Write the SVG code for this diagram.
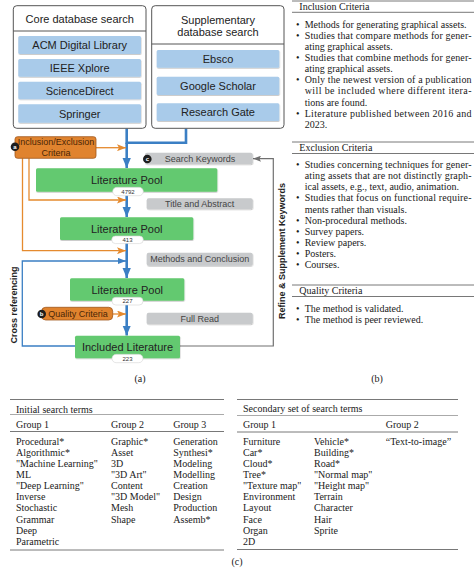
<svg xmlns="http://www.w3.org/2000/svg" width="474" height="576" viewBox="0 0 474 576">
<style>
.sans{font-family:"Liberation Sans",Arial,sans-serif;fill:#222}
.serif{font-family:"Liberation Serif","Times New Roman",serif;fill:#1a1a1a;font-size:10px}
.t11{font-size:11px}
.t9{font-size:9px}
.mid{text-anchor:middle}
.frame{fill:#fff;stroke:#555;stroke-width:1}
.item{fill:#a9cbea;filter:url(#sh)}
.pool{fill:#63c96f;filter:url(#sh)}
.pill{fill:#c8cacc;filter:url(#sh)}
.pilltxt{fill:#444}
.orange{fill:#e0832e;stroke:#a0561a;stroke-width:0.8}
.otxt{fill:#4a2606}
.badge{fill:#fff;stroke:#d4d4d4;stroke-width:0.6}
.btxt{font-family:"Liberation Sans",Arial,sans-serif;font-size:6px;fill:#333;text-anchor:middle}
.circ{fill:#1e1e1e}
.ctxt{font-family:"Liberation Sans",Arial,sans-serif;font-size:6px;font-weight:bold;fill:#fff;text-anchor:middle}
.blue{stroke:#3b7fc4;stroke-width:2.6;fill:none}
.bluethin{stroke:#3b7fc4;stroke-width:1.3;fill:none}
.or{stroke:#e58a2e;stroke-width:1.3;fill:none}
.gr{stroke:#707070;stroke-width:1.2;fill:none}
.rule{stroke:#555;stroke-width:0.8}
.rulethin{stroke:#555;stroke-width:0.5}
.bold{font-weight:bold}
</style>
<defs>
<filter id="sh" x="-10%" y="-20%" width="120%" height="150%">
<feDropShadow dx="0.4" dy="0.8" stdDeviation="0.7" flood-color="#000" flood-opacity="0.25"/>
</filter>
<marker id="ab" markerUnits="userSpaceOnUse" markerWidth="10" markerHeight="12" refX="12" refY="5" orient="auto" viewBox="0 0 12 10">
<path d="M0,0 L12,5 L0,10 z" fill="#3b7fc4"/>
</marker>
<marker id="abs" markerUnits="userSpaceOnUse" markerWidth="8" markerHeight="7" refX="9" refY="3.5" orient="auto" viewBox="0 0 9 7">
<path d="M0,0 L9,3.5 L0,7 z" fill="#3b7fc4"/>
</marker>
<marker id="ao" markerUnits="userSpaceOnUse" markerWidth="9" markerHeight="7" refX="9" refY="3.5" orient="auto" viewBox="0 0 9 7">
<path d="M0,0 L9,3.5 L0,7 L2,3.5 z" fill="#e58a2e"/>
</marker>
<marker id="ag" markerUnits="userSpaceOnUse" markerWidth="8" markerHeight="6" refX="8" refY="3" orient="auto" viewBox="0 0 8 6">
<path d="M0,0 L8,3 L0,6 L1.5,3 z" fill="#707070"/>
</marker>
</defs>
<rect width="474" height="576" fill="#fff"/>

<!-- connectors -->
<g id="connectors">
<path class="blue" d="M126.7,128.5 V142.7 H186 V128.5"/>
<path class="blue" d="M126.7,142.7 V168" marker-end="url(#ab)"/>
<path class="blue" d="M126.7,192 V217" marker-end="url(#ab)"/>
<path class="blue" d="M126.7,240 V278" marker-end="url(#ab)"/>
<path class="blue" d="M126.7,301 V335.5" marker-end="url(#ab)"/>
<path class="or" d="M96,147.7 H126" marker-end="url(#ao)"/>
<path class="or" d="M29,158.3 V200 H126" marker-end="url(#ao)"/>
<path class="or" d="M22.5,158.3 V250.7 H126" marker-end="url(#ao)"/>
<path class="or" d="M112.7,314 H126" marker-end="url(#ao)"/>
<path class="bluethin" d="M75,346 H22.3 V261 H126" marker-end="url(#abs)"/>
<path class="gr" d="M180,346 H273.3 V158.7 H253" marker-end="url(#ag)"/>
</g>

<!-- core database search -->
<g id="core">
<rect class="frame" x="13.3" y="5.7" width="132.7" height="122.6" rx="3.5"/>
<line x1="13.3" y1="31" x2="146" y2="31" stroke="#555" stroke-width="1"/>
<text class="sans t11 mid" x="79.7" y="23">Core database search</text>
</g>
<g id="acm"><rect class="item" x="18.3" y="36" width="122.7" height="18" rx="1.5"/><text class="sans t11 mid" x="79.7" y="49">ACM Digital Library</text></g>
<g id="ieee"><rect class="item" x="18.3" y="59" width="122.7" height="17.7" rx="1.5"/><text class="sans t11 mid" x="79.7" y="72">IEEE Xplore</text></g>
<g id="sciencedirect"><rect class="item" x="18.3" y="81.7" width="122.7" height="17.6" rx="1.5"/><text class="sans t11 mid" x="79.7" y="94.5">ScienceDirect</text></g>
<g id="springer"><rect class="item" x="18.3" y="104.3" width="122.7" height="18.4" rx="1.5"/><text class="sans t11 mid" x="79.7" y="117.5">Springer</text></g>

<!-- supplementary -->
<g id="supp">
<rect class="frame" x="151.7" y="5.7" width="132.3" height="122.6" rx="3.5"/>
<line x1="151.7" y1="44" x2="284" y2="44" stroke="#555" stroke-width="1"/>
<text class="sans t11 mid" x="218" y="24">Supplementary</text>
<text class="sans t11 mid" x="218" y="36.3">database search</text>
</g>
<g id="ebsco"><rect class="item" x="156.7" y="50" width="122.6" height="17.7" rx="1.5"/><text class="sans t11 mid" x="218" y="62.8">Ebsco</text></g>
<g id="scholar"><rect class="item" x="156.7" y="76.7" width="122.6" height="18.3" rx="1.5"/><text class="sans t11 mid" x="218" y="89.8">Google Scholar</text></g>
<g id="researchgate"><rect class="item" x="156.7" y="103.3" width="122.6" height="17.7" rx="1.5"/><text class="sans t11 mid" x="218" y="116.2">Research Gate</text></g>

<!-- criteria -->
<g id="inclusion">
<rect class="orange" x="15" y="136.7" width="81" height="21.6" rx="2.5"/>
<text class="sans t9 mid otxt" x="56" y="145">Inclusion/Exclusion</text>
<text class="sans t9 mid otxt" x="56" y="155.5">Criteria</text>
<circle class="circ" cx="15" cy="146.7" r="4.3"/>
<text class="ctxt" x="15" y="148.8">a</text>
</g>
<g id="quality">
<rect class="orange" x="41.7" y="307.3" width="71" height="12.7" rx="4"/>
<text class="sans t9 mid otxt" x="78" y="317">Quality Criteria</text>
<circle class="circ" cx="41.7" cy="314" r="4.3"/>
<text class="ctxt" x="41.7" y="316.1">b</text>
</g>

<!-- gray steps -->
<g id="searchkeywords">
<rect class="pill" x="145" y="152.7" width="107.7" height="11.6" rx="2"/>
<text class="sans t9 mid pilltxt" x="200" y="161.7">Search Keywords</text>
<circle class="circ" cx="147.3" cy="159" r="4.3"/>
<text class="ctxt" x="147.3" y="161.1">c</text>
</g>
<g id="titleabstract"><rect class="pill" x="146.7" y="198.3" width="106" height="11" rx="2"/><text class="sans t9 mid pilltxt" x="199.7" y="207">Title and Abstract</text></g>
<g id="methods"><rect class="pill" x="146.7" y="252.7" width="106" height="13" rx="2"/><text class="sans t9 mid pilltxt" x="199.7" y="262.4">Methods and Conclusion</text></g>
<g id="fullread"><rect class="pill" x="146.7" y="312.7" width="106" height="11.6" rx="2"/><text class="sans t9 mid pilltxt" x="199.7" y="321.7">Full Read</text></g>

<!-- pools -->
<g id="pool1">
<rect class="pool" x="36" y="168.3" width="181.3" height="23.4" rx="1.5"/>
<text class="sans t11 mid" x="126.7" y="184">Literature Pool</text>
<rect class="badge" x="112.7" y="187.3" width="30.6" height="8.4" rx="4.2"/>
<text class="btxt" x="128" y="193.6">4792</text>
</g>
<g id="pool2">
<rect class="pool" x="60" y="217.3" width="133.3" height="22.7" rx="1.5"/>
<text class="sans t11 mid" x="126.7" y="232.7">Literature Pool</text>
<rect class="badge" x="111.7" y="236" width="31.6" height="7.6" rx="3.8"/>
<text class="btxt" x="127.5" y="241.9">413</text>
</g>
<g id="pool3">
<rect class="pool" x="70" y="278.3" width="114.3" height="22.4" rx="1.5"/>
<text class="sans t11 mid" x="127.2" y="293.5">Literature Pool</text>
<rect class="badge" x="112" y="297.3" width="31" height="7.7" rx="3.8"/>
<text class="btxt" x="127.5" y="303.2">227</text>
</g>
<g id="included">
<rect class="pool" x="75" y="335.7" width="105" height="22.6" rx="1.5"/>
<text class="sans t11 mid" x="127.5" y="351">Included Literature</text>
<rect class="badge" x="112" y="354.3" width="31" height="8.4" rx="4.2"/>
<text class="btxt" x="127.5" y="360.6">223</text>
</g>

<!-- side labels -->
<text class="sans t9 bold mid" transform="translate(17.3,305) rotate(-90)">Cross referencing</text>
<text class="sans t9 bold mid" transform="translate(284.5,251) rotate(-90)">Refine &amp; Supplement Keywords</text>

<text class="serif mid" x="140" y="382">(a)</text>

<!-- (b) criteria lists -->
<g id="criteria-text">
<line class="rule" x1="292" y1="1" x2="474" y2="1" stroke="#888" stroke-width="1.4"/>
<text class="serif" x="299.3" y="9.5">Inclusion Criteria</text>
<line class="rule" x1="292" y1="12.3" x2="474" y2="12.3"/>
<text class="serif" x="296" y="27.5">•</text><text class="serif" x="304.7" y="27.5">Methods for generating graphical assets.</text>
<text class="serif" x="296" y="38.6">•</text><text class="serif" x="304.7" y="38.6" textLength="166.8" lengthAdjust="spacing">Studies that compare methods for gener-</text>
<text class="serif" x="304.7" y="49.8">ating graphical assets.</text>
<text class="serif" x="296" y="60.9">•</text><text class="serif" x="304.7" y="60.9" textLength="166.8" lengthAdjust="spacing">Studies that combine methods for gener-</text>
<text class="serif" x="304.7" y="72">ating graphical assets.</text>
<text class="serif" x="296" y="83.2">•</text><text class="serif" x="304.7" y="83.2" textLength="166.8" lengthAdjust="spacing">Only the newest version of a publication</text>
<text class="serif" x="304.7" y="94.3" textLength="166.8" lengthAdjust="spacing">will be included where different itera-</text>
<text class="serif" x="304.7" y="105.5">tions are found.</text>
<text class="serif" x="296" y="116.6">•</text><text class="serif" x="304.7" y="116.6" textLength="166.8" lengthAdjust="spacing">Literature published between 2016 and</text>
<text class="serif" x="304.7" y="127.8">2023.</text>

<line class="rule" x1="292" y1="142" x2="474" y2="142"/>
<text class="serif" x="299.3" y="150.7">Exclusion Criteria</text>
<line class="rule" x1="292" y1="153.5" x2="474" y2="153.5"/>
<text class="serif" x="296" y="168">•</text><text class="serif" x="304.7" y="168" textLength="166.8" lengthAdjust="spacing">Studies concerning techniques for gener-</text>
<text class="serif" x="304.7" y="179.1" textLength="166.8" lengthAdjust="spacing">ating assets that are not distinctly graph-</text>
<text class="serif" x="304.7" y="190.3">ical assets, e.g., text, audio, animation.</text>
<text class="serif" x="296" y="201.4">•</text><text class="serif" x="304.7" y="201.4" textLength="166.8" lengthAdjust="spacing">Studies that focus on functional require-</text>
<text class="serif" x="304.7" y="212.6">ments rather than visuals.</text>
<text class="serif" x="296" y="223.7">•</text><text class="serif" x="304.7" y="223.7">Non-procedural methods.</text>
<text class="serif" x="296" y="234.9">•</text><text class="serif" x="304.7" y="234.9">Survey papers.</text>
<text class="serif" x="296" y="246">•</text><text class="serif" x="304.7" y="246">Review papers.</text>
<text class="serif" x="296" y="257.2">•</text><text class="serif" x="304.7" y="257.2">Posters.</text>
<text class="serif" x="296" y="268.3">•</text><text class="serif" x="304.7" y="268.3">Courses.</text>

<line class="rule" x1="292" y1="285" x2="474" y2="285"/>
<text class="serif" x="299.3" y="293.7">Quality Criteria</text>
<line class="rule" x1="292" y1="296.5" x2="474" y2="296.5"/>
<text class="serif" x="296" y="311.5">•</text><text class="serif" x="304.7" y="311.5">The method is validated.</text>
<text class="serif" x="296" y="322.7">•</text><text class="serif" x="304.7" y="322.7">The method is peer reviewed.</text>
</g>
<text class="serif mid" x="377" y="382">(b)</text>

<!-- (c) tables -->
<g id="table-initial">
<line class="rule" x1="10" y1="399.5" x2="224" y2="399.5" stroke-width="1.1"/>
<text class="serif" x="16" y="412.5">Initial search terms</text>
<line class="rulethin" x1="10" y1="414.5" x2="224" y2="414.5"/>
<text class="serif" x="16" y="427.5">Group 1</text>
<text class="serif" x="111" y="427.5">Group 2</text>
<text class="serif" x="173.3" y="427.5">Group 3</text>
<line class="rule" x1="10" y1="431.5" x2="224" y2="431.5"/>
<text class="serif" x="16" y="444.5">Procedural*</text>
<text class="serif" x="16" y="455.6">Algorithmic*</text>
<text class="serif" x="16" y="466.8">"Machine Learning"</text>
<text class="serif" x="16" y="477.9">ML</text>
<text class="serif" x="16" y="489.1">"Deep Learning"</text>
<text class="serif" x="16" y="500.2">Inverse</text>
<text class="serif" x="16" y="511.4">Stochastic</text>
<text class="serif" x="16" y="522.5">Grammar</text>
<text class="serif" x="16" y="533.7">Deep</text>
<text class="serif" x="16" y="544.8">Parametric</text>
<text class="serif" x="111" y="444.5">Graphic*</text>
<text class="serif" x="111" y="455.6">Asset</text>
<text class="serif" x="111" y="466.8">3D</text>
<text class="serif" x="111" y="477.9">"3D Art"</text>
<text class="serif" x="111" y="489.1">Content</text>
<text class="serif" x="111" y="500.2">"3D Model"</text>
<text class="serif" x="111" y="511.4">Mesh</text>
<text class="serif" x="111" y="522.5">Shape</text>
<text class="serif" x="173.3" y="444.5">Generation</text>
<text class="serif" x="173.3" y="455.6">Synthesi*</text>
<text class="serif" x="173.3" y="466.8">Modeling</text>
<text class="serif" x="173.3" y="477.9">Modelling</text>
<text class="serif" x="173.3" y="489.1">Creation</text>
<text class="serif" x="173.3" y="500.2">Design</text>
<text class="serif" x="173.3" y="511.4">Production</text>
<text class="serif" x="173.3" y="522.5">Assemb*</text>
<line class="rule" x1="10" y1="550" x2="224" y2="550" stroke-width="1.1"/>
</g>
<g id="table-secondary">
<line class="rule" x1="237" y1="399.5" x2="458" y2="399.5" stroke-width="1.1"/>
<text class="serif" x="243" y="412">Secondary set of search terms</text>
<line class="rulethin" x1="237" y1="415.5" x2="458" y2="415.5"/>
<text class="serif" x="243" y="427.5">Group 1</text>
<text class="serif" x="385.7" y="427.5">Group 2</text>
<line class="rule" x1="237" y1="432" x2="458" y2="432"/>
<text class="serif" x="243" y="444.5">Furniture</text>
<text class="serif" x="243" y="455.6">Car*</text>
<text class="serif" x="243" y="466.8">Cloud*</text>
<text class="serif" x="243" y="477.9">Tree*</text>
<text class="serif" x="243" y="489.1">"Texture map"</text>
<text class="serif" x="243" y="500.2">Environment</text>
<text class="serif" x="243" y="511.4">Layout</text>
<text class="serif" x="243" y="522.5">Face</text>
<text class="serif" x="243" y="533.7">Organ</text>
<text class="serif" x="243" y="544.8">2D</text>
<text class="serif" x="314" y="444.5">Vehicle*</text>
<text class="serif" x="314" y="455.6">Building*</text>
<text class="serif" x="314" y="466.8">Road*</text>
<text class="serif" x="314" y="477.9">"Normal map"</text>
<text class="serif" x="314" y="489.1">"Height map"</text>
<text class="serif" x="314" y="500.2">Terrain</text>
<text class="serif" x="314" y="511.4">Character</text>
<text class="serif" x="314" y="522.5">Hair</text>
<text class="serif" x="314" y="533.7">Sprite</text>
<text class="serif" x="385.7" y="444.5">“Text-to-image”</text>
<line class="rule" x1="237" y1="549.5" x2="458" y2="549.5" stroke-width="1.1"/>
</g>
<text class="serif mid" x="237" y="565">(c)</text>
</svg>
